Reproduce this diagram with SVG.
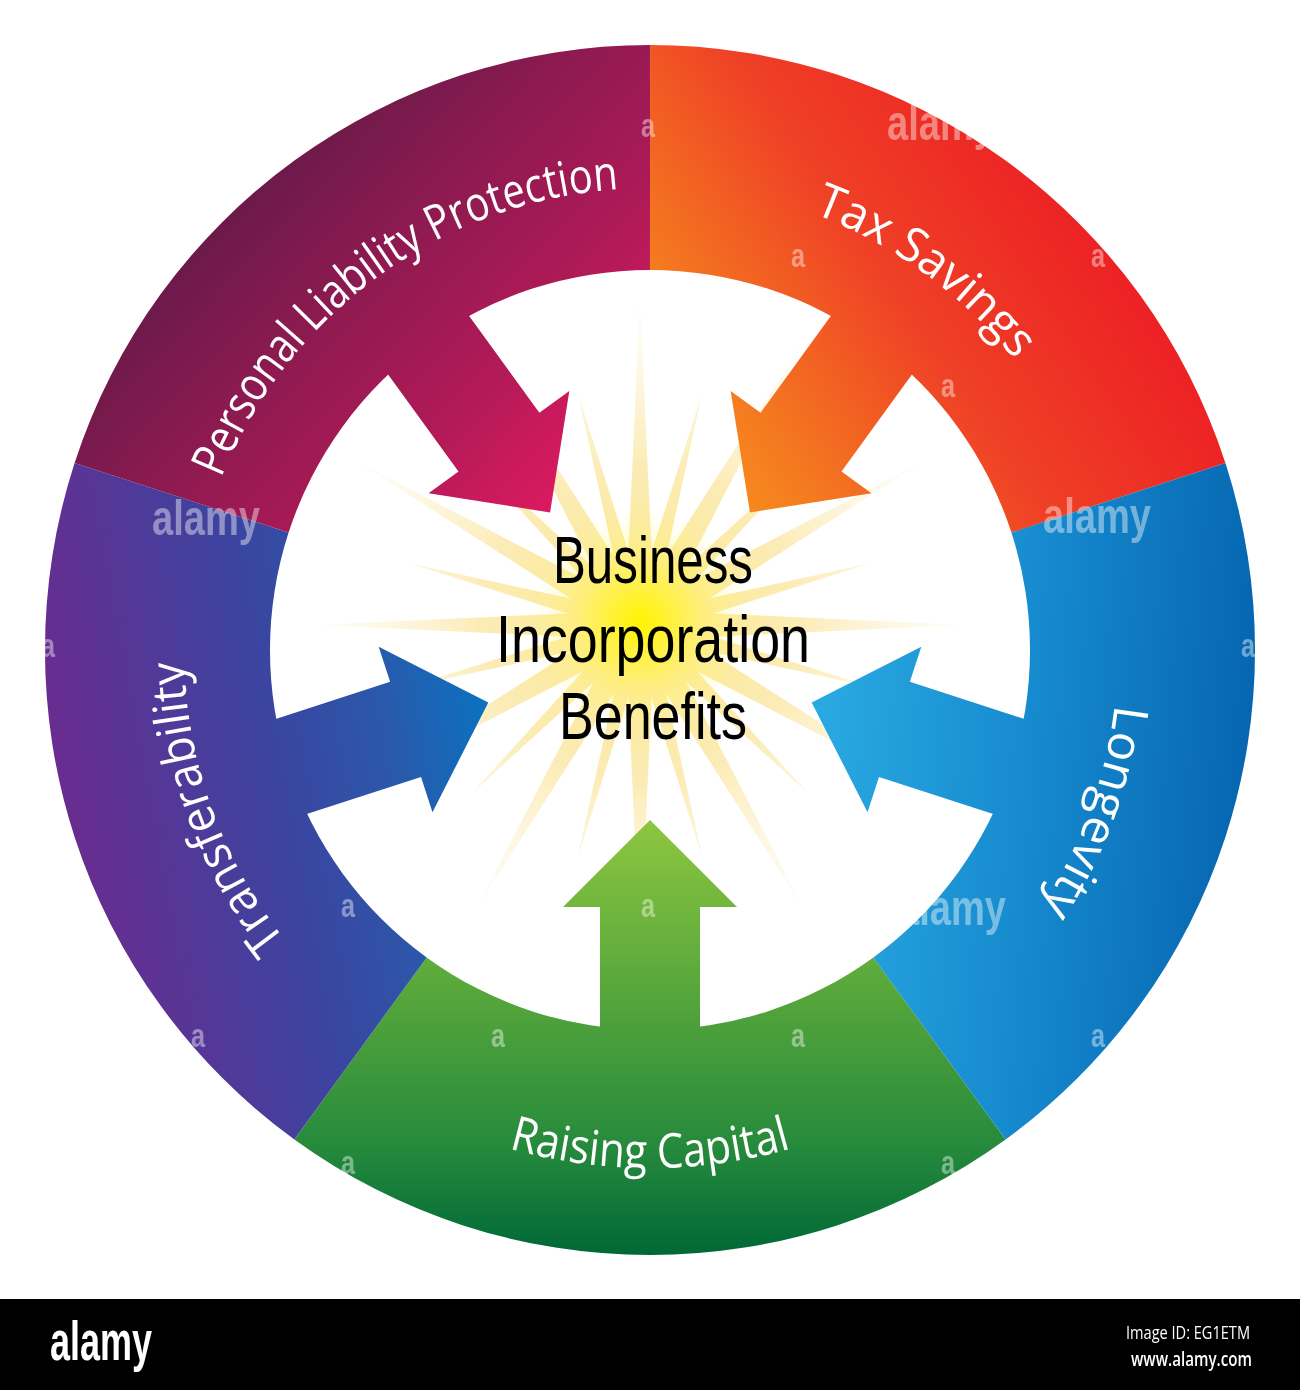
<svg xmlns="http://www.w3.org/2000/svg" xmlns:xlink="http://www.w3.org/1999/xlink" width="1300" height="1390" viewBox="0 0 1300 1390">
<style>
.lbl{font-family:"Open Sans","Noto Sans","Liberation Sans",sans-serif;font-size:48px;fill:#ffffff;}
.ctr{font-family:"Liberation Sans","Arial",sans-serif;font-size:66px;fill:#000000;text-anchor:middle;}
.wm{font-family:"Liberation Sans","DejaVu Sans",sans-serif;font-weight:bold;fill:#ffffff;fill-opacity:0.42;text-anchor:middle;}
.wms{font-size:34px;}
.wmb{font-size:50px;}
.bar{font-family:"Open Sans","Liberation Sans",sans-serif;fill:#ffffff;text-anchor:end;}
</style>
<defs>
<linearGradient id="gGreen" gradientUnits="userSpaceOnUse" x1="650" y1="1255" x2="650" y2="820">
<stop offset="0" stop-color="#006837"/><stop offset="0.25" stop-color="#268a3c"/><stop offset="0.55" stop-color="#4fa23b"/><stop offset="1" stop-color="#8dc63f"/>
</linearGradient>
<linearGradient id="gTrans" gradientUnits="userSpaceOnUse" x1="60" y1="770" x2="487" y2="690" gradientTransform="rotate(-72 650 650)">
<stop offset="0" stop-color="#692c90"/><stop offset="0.5" stop-color="#3a45a0"/><stop offset="0.75" stop-color="#2b58aa"/><stop offset="1" stop-color="#0a72c1"/>
</linearGradient>
<linearGradient id="gPLP" gradientUnits="userSpaceOnUse" x1="170" y1="150" x2="555" y2="515" gradientTransform="rotate(-144 650 650)">
<stop offset="0" stop-color="#561a45"/><stop offset="0.4" stop-color="#8a1a50"/><stop offset="0.72" stop-color="#b01a57"/><stop offset="1" stop-color="#dd1a61"/>
</linearGradient>
<linearGradient id="gTax" gradientUnits="userSpaceOnUse" x1="1150" y1="250" x2="720" y2="540" gradientTransform="rotate(-216 650 650)">
<stop offset="0" stop-color="#ec1c24"/><stop offset="0.45" stop-color="#ef4026"/><stop offset="0.65" stop-color="#f26122"/><stop offset="0.8" stop-color="#f47920"/><stop offset="1" stop-color="#f7941d"/>
</linearGradient>
<linearGradient id="gLong" gradientUnits="userSpaceOnUse" x1="1255" y1="720" x2="815" y2="690" gradientTransform="rotate(-288 650 650)">
<stop offset="0" stop-color="#0665b0"/><stop offset="0.5" stop-color="#168ace"/><stop offset="1" stop-color="#2aaae2"/>
</linearGradient>
<radialGradient id="gRay" gradientUnits="userSpaceOnUse" cx="640" cy="625" r="330">
<stop offset="0" stop-color="#fff200"/><stop offset="0.18" stop-color="#fde57a"/><stop offset="0.5" stop-color="#fbe8a8"/><stop offset="1" stop-color="#fdf3d4" stop-opacity="0.2"/>
</radialGradient>
<radialGradient id="gGlow" gradientUnits="userSpaceOnUse" cx="640" cy="620" r="110">
<stop offset="0" stop-color="#fff200" stop-opacity="0.95"/><stop offset="0.5" stop-color="#fff34d" stop-opacity="0.5"/><stop offset="1" stop-color="#fff8a0" stop-opacity="0"/>
</radialGradient>
<polygon id="rayL" points="640,610 965,625 640,640"/>
<polygon id="rayS" points="640,614 880,625 640,636"/>
<path id="wedge" d="M 1005.6 1139.5 A 605 605 0 0 1 294.4 1139.5 L 426.6 957.4 A 380 380 0 0 0 873.4 957.4 Z"/>
<path id="arrow" d="M 600 1045 L 600 907 L 563 907 L 650 820 L 737 907 L 700 907 L 700 1045 Z"/>
<path id="arcPLP" d="M 215.9 492 A 462 462 0 0 1 633.9 188.3"/>
<path id="arcTax" d="M 730.9 191.1 A 466 466 0 0 1 1061.4 431.2"/>
<path id="arcLong" d="M 1110.9 568.7 A 468 468 0 0 1 950.8 1008.5"/>
<path id="arcTrans" d="M 350.5 1007 A 466 466 0 0 1 191.1 569.1"/>
<path id="arcRaise" d="M 317 1046.8 A 518 518 0 0 0 983 1046.8"/>
</defs>
<rect x="0" y="0" width="1300" height="1390" fill="#ffffff"/>
<g id="starburst">
<g fill="url(#gRay)" opacity="0.8">
<use href="#rayL" transform="rotate(0 640 625)"/><use href="#rayS" transform="rotate(15 640 625)"/>
<use href="#rayL" transform="rotate(30 640 625)"/><use href="#rayS" transform="rotate(45 640 625)"/>
<use href="#rayL" transform="rotate(60 640 625)"/><use href="#rayS" transform="rotate(75 640 625)"/>
<use href="#rayL" transform="rotate(90 640 625)"/><use href="#rayS" transform="rotate(105 640 625)"/>
<use href="#rayL" transform="rotate(120 640 625)"/><use href="#rayS" transform="rotate(135 640 625)"/>
<use href="#rayL" transform="rotate(150 640 625)"/><use href="#rayS" transform="rotate(165 640 625)"/>
<use href="#rayL" transform="rotate(180 640 625)"/><use href="#rayS" transform="rotate(195 640 625)"/>
<use href="#rayL" transform="rotate(210 640 625)"/><use href="#rayS" transform="rotate(225 640 625)"/>
<use href="#rayL" transform="rotate(240 640 625)"/><use href="#rayS" transform="rotate(255 640 625)"/>
<use href="#rayL" transform="rotate(270 640 625)"/><use href="#rayS" transform="rotate(285 640 625)"/>
<use href="#rayL" transform="rotate(300 640 625)"/><use href="#rayS" transform="rotate(315 640 625)"/>
<use href="#rayL" transform="rotate(330 640 625)"/><use href="#rayS" transform="rotate(345 640 625)"/>
</g>
<circle cx="640" cy="620" r="110" fill="url(#gGlow)"/>
</g>
<g id="connectors">
<g id="seg-raising-capital" fill="url(#gGreen)">
<use href="#wedge"/><use href="#arrow"/>
</g>
<g id="seg-transferability" fill="url(#gTrans)" transform="rotate(72 650 650)">
<use href="#wedge"/><use href="#arrow"/>
</g>
<g id="seg-personal-liability" fill="url(#gPLP)" transform="rotate(144 650 650)">
<use href="#wedge"/><use href="#arrow"/>
</g>
<g id="seg-tax-savings" fill="url(#gTax)" transform="rotate(216 650 650)">
<use href="#wedge"/><use href="#arrow"/>
</g>
<g id="seg-longevity" fill="url(#gLong)" transform="rotate(288 650 650)">
<use href="#wedge"/><use href="#arrow"/>
</g>
</g>
<g id="node-personal-liability"><text class="lbl"><textPath href="#arcPLP" startOffset="50%" text-anchor="middle" textLength="518" lengthAdjust="spacingAndGlyphs">Personal Liability Protection</textPath></text></g>
<g id="node-tax-savings"><text class="lbl"><textPath href="#arcTax" startOffset="50%" text-anchor="middle" textLength="252" lengthAdjust="spacingAndGlyphs">Tax Savings</textPath></text></g>
<g id="node-longevity"><text class="lbl"><textPath href="#arcLong" startOffset="50%" text-anchor="middle" textLength="218" lengthAdjust="spacingAndGlyphs">Longevity</textPath></text></g>
<g id="node-raising-capital"><text class="lbl"><textPath href="#arcRaise" startOffset="50%" text-anchor="middle" textLength="286" lengthAdjust="spacingAndGlyphs">Raising Capital</textPath></text></g>
<g id="node-transferability"><text class="lbl"><textPath href="#arcTrans" startOffset="50%" text-anchor="middle" textLength="302" lengthAdjust="spacingAndGlyphs">Transferability</textPath></text></g>
<g id="node-center">
<text class="ctr"><tspan x="653" y="583" textLength="200" lengthAdjust="spacingAndGlyphs">Business</tspan><tspan x="653" y="662" textLength="314" lengthAdjust="spacingAndGlyphs">Incorporation</tspan><tspan x="653" y="739" textLength="188" lengthAdjust="spacingAndGlyphs">Benefits</tspan></text>
</g>
<g id="watermarks" class="wm">
<text class="wmb" x="206" y="535" textLength="108" lengthAdjust="spacingAndGlyphs">alamy</text>
<text class="wmb" x="941" y="140" textLength="108" lengthAdjust="spacingAndGlyphs">alamy</text>
<text class="wmb" x="1097" y="533" textLength="108" lengthAdjust="spacingAndGlyphs">alamy</text>
<text class="wmb" x="952" y="925" textLength="108" lengthAdjust="spacingAndGlyphs">alamy</text>
<text class="wms" x="648" y="137" textLength="14" lengthAdjust="spacingAndGlyphs">a</text>
<text class="wms" x="798" y="267" textLength="14" lengthAdjust="spacingAndGlyphs">a</text>
<text class="wms" x="1098" y="267" textLength="14" lengthAdjust="spacingAndGlyphs">a</text>
<text class="wms" x="948" y="397" textLength="14" lengthAdjust="spacingAndGlyphs">a</text>
<text class="wms" x="48" y="657" textLength="14" lengthAdjust="spacingAndGlyphs">a</text>
<text class="wms" x="1248" y="657" textLength="14" lengthAdjust="spacingAndGlyphs">a</text>
<text class="wms" x="348" y="917" textLength="14" lengthAdjust="spacingAndGlyphs">a</text>
<text class="wms" x="648" y="917" textLength="14" lengthAdjust="spacingAndGlyphs">a</text>
<text class="wms" x="198" y="1047" textLength="14" lengthAdjust="spacingAndGlyphs">a</text>
<text class="wms" x="498" y="1047" textLength="14" lengthAdjust="spacingAndGlyphs">a</text>
<text class="wms" x="798" y="1047" textLength="14" lengthAdjust="spacingAndGlyphs">a</text>
<text class="wms" x="1098" y="1047" textLength="14" lengthAdjust="spacingAndGlyphs">a</text>
<text class="wms" x="348" y="1174" textLength="14" lengthAdjust="spacingAndGlyphs">a</text>
<text class="wms" x="948" y="1174" textLength="14" lengthAdjust="spacingAndGlyphs">a</text>
</g>
<g id="footer">
<rect x="0" y="1299" width="1300" height="91" fill="#000000"/>
<text x="50" y="1360" font-family="Liberation Sans, DejaVu Sans, sans-serif" font-weight="bold" font-size="56" fill="#ffffff" textLength="102" lengthAdjust="spacingAndGlyphs">alamy</text>
<text class="bar" x="1250" y="1339" font-size="18" textLength="124" lengthAdjust="spacingAndGlyphs">Image ID: EG1ETM</text>
<text class="bar" x="1252" y="1366" font-size="20" font-weight="600" textLength="121" lengthAdjust="spacingAndGlyphs">www.alamy.com</text>
</g>
</svg>
